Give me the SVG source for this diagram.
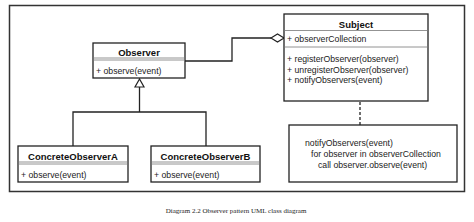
<svg xmlns="http://www.w3.org/2000/svg" width="474" height="222" viewBox="0 0 474 222">
<style>
.box{fill:#fff;stroke:#222;stroke-width:1.3}
.ln{fill:none;stroke:#222;stroke-width:1.3}
.div{fill:none;stroke:#777;stroke-width:0.8}
.t{font-family:"Liberation Sans",Arial,sans-serif;font-size:9.5px;font-weight:bold;fill:#111;text-anchor:middle}
.m{font-family:"Liberation Sans",Arial,sans-serif;font-size:8.7px;fill:#222}
.cap{font-family:"Liberation Serif","Times New Roman",serif;font-size:7px;fill:#222;text-anchor:middle}
</style>
<rect width="474" height="222" fill="#fff"/>
<rect x="9.5" y="5.5" width="455" height="186" fill="none" stroke="#333" stroke-width="1.5"/>
<g id="connectors">
<polyline class="ln" points="185,61 232,61 232,38 271,38"/>
<polygon points="271,38 277.5,34 284,38 277.5,42" fill="#fff" stroke="#222" stroke-width="1.2"/>
<polygon points="139.5,79 135,87 144,87" fill="#fff" stroke="#222" stroke-width="1.2"/>
<polyline class="ln" points="139.5,87 139.5,112"/>
<polyline class="ln" points="73,146 73,112 206,112 206,146"/>
<line x1="360" y1="102" x2="360" y2="125" stroke="#222" stroke-width="1.3" stroke-dasharray="3,2"/>
</g>
<g id="subject">
<rect class="box" x="284" y="14" width="144" height="87"/>
<text class="t" x="356" y="28">Subject</text>
<line class="div" x1="284" y1="30.5" x2="428" y2="30.5"/>
<line class="div" x1="284" y1="47" x2="428" y2="47"/>
<text class="m" x="287" y="42">+ observerCollection</text>
<text class="m" x="287" y="62">+ registerObserver(observer)</text>
<text class="m" x="287" y="72.5">+ unregisterObserver(observer)</text>
<text class="m" x="287" y="83">+ notifyObservers(event)</text>
</g>
<g id="observer">
<rect class="box" x="93" y="43" width="92" height="35"/>
<text class="t" x="139" y="56">Observer</text>
<line class="div" x1="93" y1="58" x2="185" y2="58"/>
<line class="div" x1="93" y1="60" x2="185" y2="60"/>
<text class="m" x="96" y="74">+ observe(event)</text>
</g>
<g id="concreteA">
<rect class="box" x="18" y="146" width="110" height="36"/>
<text class="t" x="73" y="159.5">ConcreteObserverA</text>
<line class="div" x1="18" y1="162" x2="128" y2="162"/>
<line class="div" x1="18" y1="164" x2="128" y2="164"/>
<text class="m" x="21" y="178">+ observe(event)</text>
</g>
<g id="concreteB">
<rect class="box" x="151" y="146" width="109" height="36"/>
<text class="t" x="205.5" y="159.5">ConcreteObserverB</text>
<line class="div" x1="151" y1="162" x2="260" y2="162"/>
<line class="div" x1="151" y1="164" x2="260" y2="164"/>
<text class="m" x="154" y="178">+ observe(event)</text>
</g>
<g id="note">
<rect class="box" x="289" y="125" width="168" height="57"/>
<text class="m" x="305" y="146">notifyObservers(event)</text>
<text class="m" x="311" y="157">for observer in observerCollection</text>
<text class="m" x="318" y="167.5">call observer.observe(event)</text>
</g>
<text class="cap" x="236" y="213">Diagram 2.2 Observer pattern UML class diagram</text>
</svg>
